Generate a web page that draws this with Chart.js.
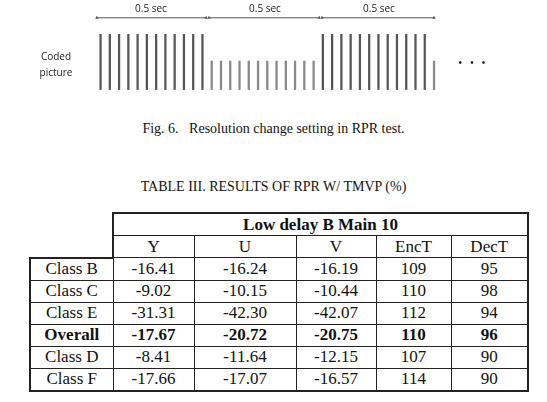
<!DOCTYPE html>
<html>
<head>
<meta charset="utf-8">
<script src="https://cdn.jsdelivr.net/npm/chart.js@4.4.1/dist/chart.umd.min.js"></script>
<style>
  body { margin: 0; width: 547px; height: 402px; background: #fff; position: relative; overflow: hidden; }
  #frameWrap { position: absolute; left: 0; top: 0; width: 547px; height: 100px; }
  .lbl { position: absolute; font-family: "Open Sans", "DejaVu Sans", sans-serif; color: #222; }
  .cap { position: absolute; width: 547px; text-align: center; font-family: "Liberation Serif", serif; color: #111; }
  table { position: absolute; left: 29px; top: 212px; border-collapse: collapse; font-family: "Liberation Serif", serif; font-size: 17px; color: #111; }
  td { border: 1px solid #222; text-align: center; padding: 0; height: 21px; line-height: 20px; }
  td.blank { border: none; border-right: 2px solid #222; }
  tr.bold td { font-weight: bold; }
</style>
</head>
<body>
<div id="frameWrap"><canvas id="frameChart" width="547" height="100"></canvas></div>
<div class="lbl" style="left:96px;top:1px;width:110px;text-align:center;font-size:10px">0.5 sec</div>
<div class="lbl" style="left:209px;top:1px;width:112px;text-align:center;font-size:10px">0.5 sec</div>
<div class="lbl" style="left:322px;top:1px;width:114px;text-align:center;font-size:10px">0.5 sec</div>
<div class="lbl" style="left:30px;top:48px;width:52px;text-align:center;font-size:10px;line-height:16px">Coded<br>picture</div>
<div class="lbl" style="left:458px;top:54px;font-size:12px;letter-spacing:2px">• • •</div>
<div class="cap" style="top:121px;font-size:14px">Fig. 6.&nbsp;&nbsp; Resolution change setting in RPR test.</div>
<div class="cap" style="top:179px;font-size:14px">TABLE III. RESULTS OF RPR W/ TMVP (%)</div>
<table id="tbl"></table>
<script>
// frames at 24 fps, 12 per 0.5 s segment; middle segment coded at lower resolution
const frameIdx = [];
for (let i = 0; i <= 36; i++) frameIdx.push(i);
const frameHeights = [
  67,67,67,67,67,67,67,67,67,67,67,67,
  38,38,38,38,38,38,38,38,38,38,38,38,
  67,67,67,67,67,67,67,67,67,67,67,67,
  38
];
const segStart = [-0.4, 11.7, 23.9];
const segEnd = [11.4, 23.6, 36.0];

// table data
const colHeads = ["Y", "U", "V", "EncT", "DecT"];
const rowNames = ["Class B", "Class C", "Class E", "Overall", "Class D", "Class F"];
const yVals = ["-16.41", "-9.02", "-31.31", "-17.67", "-8.41", "-17.66"];
const uVals = ["-16.24", "-10.15", "-42.30", "-20.72", "-11.64", "-17.07"];
const vVals = ["-16.19", "-10.44", "-42.07", "-20.75", "-12.15", "-16.57"];
const encT = ["109", "110", "112", "110", "107", "114"];
const decT = ["95", "98", "94", "96", "90", "90"];

const datasets = [{
  type: "bar",
  data: frameIdx.map((x, i) => ({ x: x, y: [7, frameHeights[i]] })),
  backgroundColor: frameIdx.map((x, i) => frameHeights[i] > 50 ? "#555" : "#888"),
  barThickness: 1.6
}];
segStart.forEach((s, k) => {
  datasets.push({
    type: "line",
    data: [{ x: s, y: 85 }, { x: segEnd[k], y: 85 }],
    borderColor: "#555", borderWidth: 1,
    pointStyle: "triangle", pointRadius: 2, pointBackgroundColor: "#555", pointBorderWidth: 0
  });
});

new Chart("frameChart", {
  data: { datasets: datasets },
  options: {
    responsive: false, animation: false,
    layout: { padding: 0 },
    plugins: { legend: { display: false }, tooltip: { enabled: false } },
    scales: {
      x: { type: "linear", offset: false, min: -98 / 9.4, max: 449 / 9.4, display: false },
      y: { min: 0, max: 100, display: false }
    }
  }
});

const colW = [83, 81, 102, 80, 75, 77];
const tbl = document.getElementById("tbl");
let html = "<colgroup>" + colW.map(w => `<col style="width:${w}px">`).join("") + "</colgroup>";
html += `<tr><td class="blank"></td><td colspan="5" style="font-weight:bold;border-top:2px solid #222;border-right:2px solid #222">Low delay B Main 10</td></tr>`;
html += `<tr><td class="blank"></td>` + colHeads.map((h, j) => `<td${j == 4 ? ' style="border-right:2px solid #222"' : ''}>${h}</td>`).join("") + "</tr>";
rowNames.forEach((r, i) => {
  const cells = [r, yVals[i], uVals[i], vVals[i], encT[i], decT[i]];
  html += `<tr${r == "Overall" ? ' class="bold"' : ''}>` + cells.map((c, j) => {
    let st = "";
    if (j == 0) st += "border-left:2px solid #222;";
    if (j == 5) st += "border-right:2px solid #222;";
    if (i == 0 && j == 0) st += "border-top:2px solid #222;";
    if (i == rowNames.length - 1) st += "border-bottom:2px solid #222;";
    return `<td style="${st}">${c}</td>`;
  }).join("") + "</tr>";
});
tbl.innerHTML = html;
</script>
</body>
</html>
